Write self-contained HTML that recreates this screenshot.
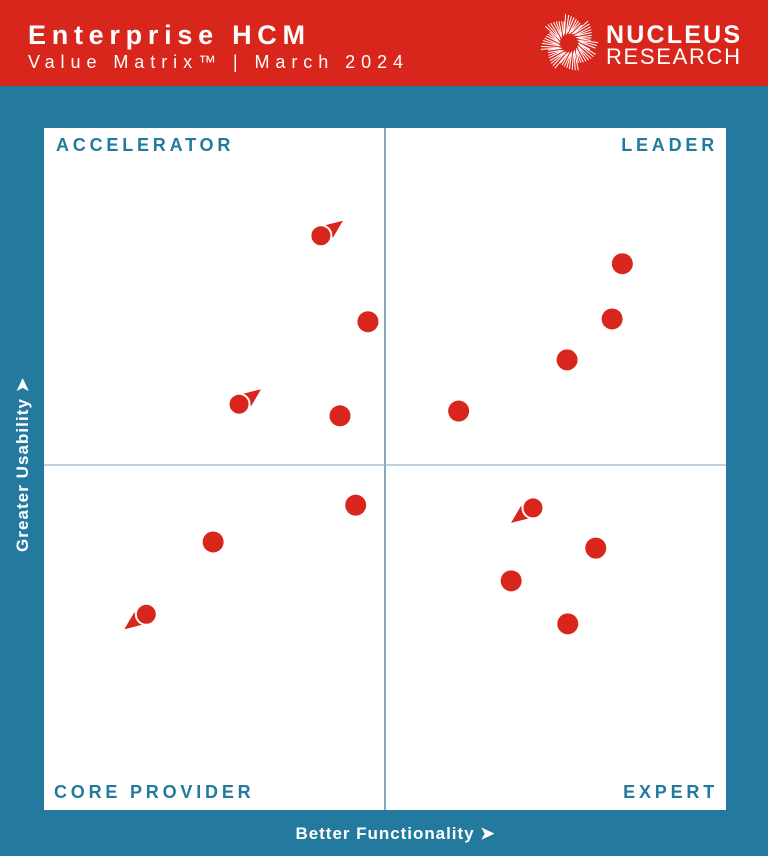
<!DOCTYPE html>
<html><head><meta charset="utf-8"><style>
html,body{margin:0;padding:0}
body{width:768px;height:856px;overflow:hidden;background:#237a9e;font-family:"Liberation Sans",sans-serif;position:relative}
#hdr{position:absolute;left:0;top:0;width:768px;height:86px;background:#d9261c}
</style></head><body>
<div id="hdr"></div>
<svg width="768" height="856" style="position:absolute;left:0;top:0">
<text x="28" y="44" fill="#fff" font-size="27" font-weight="bold" textLength="277">Enterprise HCM</text>
<text x="28" y="68" fill="#fff" font-size="18" textLength="375">Value Matrix™  |  March 2024</text>
<g>
<g id="burst" stroke="#fff" stroke-width="1"></g>
<text x="606" y="43" fill="#fff" font-size="25" font-weight="bold" textLength="134">NUCLEUS</text>
<text x="606" y="64" fill="#fff" font-size="22" textLength="134">RESEARCH</text>
</g>
<rect x="44" y="128" width="682" height="682" fill="#fff"/>
<line x1="385" y1="128" x2="385" y2="810" stroke="#5d8fae" stroke-width="1.5"/>
<line x1="44" y1="465" x2="726" y2="465" stroke="#9ab8cc" stroke-width="1.2"/>
<g font-size="18" font-weight="bold" fill="#237a9e" letter-spacing="3.8">
<text x="56" y="151">ACCELERATOR</text>
<text x="718" y="151" text-anchor="end">LEADER</text>
<text x="54" y="798">CORE PROVIDER</text>
<text x="718" y="798" text-anchor="end">EXPERT</text>
</g>
<text x="395" y="839" text-anchor="middle" fill="#fff" font-size="17" font-weight="bold" textLength="199">Better Functionality ➤</text>
<text transform="translate(28,465) rotate(-90)" text-anchor="middle" fill="#fff" font-size="17" font-weight="bold" textLength="174">Greater Usability ➤</text>
<g id="marks"></g>
</svg>
<script>
const xVals=[4.06,4.75,2.86,4.34,4.57,2.48,1.50,8.48,8.33,7.67,6.08,7.17,8.09,6.85,7.68];
const yVals=[8.42,7.16,5.95,5.78,4.47,3.93,2.87,8.01,7.20,6.60,5.85,4.43,3.84,3.36,2.73];
const moves=["up","none","up","none","none","none","down","none","none","none","none","down","none","none","none"];
function sx(v){return 44+v*68.2;}
function sy(v){return 810-v*68.2;}
const NS="http://www.w3.org/2000/svg";
const g=document.getElementById('marks');
for(let i=0;i<xVals.length;i++){
  const cx=sx(xVals[i]),cy=sy(yVals[i]);
  if(moves[i]!=="none"){
    const s=moves[i]==="up"?1:-1;
    const t=document.createElementNS(NS,'polygon');
    t.setAttribute('points',`${cx+2*s},${cy-10*s} ${cx+22*s},${cy-15*s} ${cx+12*s},${cy+2*s}`);
    t.setAttribute('fill','#d9261c');
    
    
    g.appendChild(t);
  }
  const c=document.createElementNS(NS,'circle');
  c.setAttribute('cx',cx);c.setAttribute('cy',cy);c.setAttribute('r',10.5);
  c.setAttribute('fill','#d9261c');
  if(moves[i]!=="none"){c.setAttribute('stroke','#fff');c.setAttribute('stroke-width','2');}
  
  
  g.appendChild(c);
}
const b=document.getElementById('burst');
for(let k=0;k<60;k++){
  const a=k*Math.PI*2/60, r1=9+(k%3), r2=22+(k*7%8);
  const l=document.createElementNS(NS,'line');
  l.setAttribute('x1',569+r1*Math.cos(a));l.setAttribute('y1',43+r1*Math.sin(a));
  l.setAttribute('x2',569+r2*Math.cos(a+0.3));l.setAttribute('y2',43+r2*Math.sin(a+0.3));
  b.appendChild(l);
}
</script>
</body></html>
